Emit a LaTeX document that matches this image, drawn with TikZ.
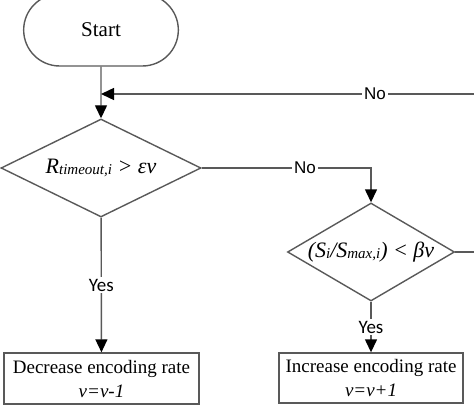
\documentclass[tikz,border=0pt]{standalone}
\usepackage{fontspec}
\setmainfont{Liberation Serif}
\newfontfamily\nofont{Liberation Sans}
\newfontfamily\yesfont{Carlito}
\usetikzlibrary{arrows.meta,shapes.geometric,shapes.misc}
\newcommand{\sbs}[1]{\raisebox{-0.6pt}{\fontsize{7.5}{8}\selectfont #1}}

\begin{document}
\begin{tikzpicture}[x=0.5pt,y=-0.5pt,
    line/.style={draw=black!65,line width=0.7pt},
    arr/.style={line,-{Triangle[length=6.5pt,width=6pt,color=black]}},
    terminal/.style={line,rounded rectangle,minimum width=84pt,minimum height=36pt,font=\fontsize{10.5}{12}\selectfont},
    decision/.style={line,diamond,inner sep=0pt,font=\fontsize{11}{12}\selectfont\itshape},
    process/.style={line,rectangle,align=center,inner sep=0pt,font=\fontsize{9.5}{12}\selectfont},
    nolab/.style={fill=white,inner sep=1pt,font=\nofont\fontsize{8.5}{10}\selectfont},
    yeslab/.style={fill=white,inner sep=1pt,font=\yesfont\fontsize{9.5}{11}\selectfont}]
  \useasboundingbox (0,0) rectangle (474,405);
  \clip (0,0) rectangle (474,405);
  \node[terminal] (start) at (101,30) {Start};
  \node[decision,minimum width=100pt,minimum height=49pt,aspect=2.04] (timeout) at (101,168)
    {R\sbs{timeout,i} > εv};
  \node[decision,minimum width=83.5pt,minimum height=49pt,aspect=1.7] (buffer) at (371,252)
    {(S\sbs{i}/S\sbs{max,i}) < βv};
  \node[process,minimum width=97.5pt,minimum height=25.5pt] (decrease) at (101.5,378.5)
    {Decrease encoding rate\\ \textit{v=v-1}};
  \node[process,minimum width=92pt,minimum height=25pt] (increase) at (371,378)
    {Increase encoding rate\\ \textit{v=v+1}};
  \coordinate (back) at (490,94);
  \draw[arr] (start) -- (timeout);
  \draw[arr] (buffer.east) -| (back) -- node[nolab,pos=0.296] {No} (start.south |- back);
  \draw[arr] (timeout.east) -| node[nolab,pos=0.305] {No} (buffer.north);
  \draw[arr] (timeout) -- node[yeslab] {Yes} (decrease);
  \draw[arr] (buffer) -- node[yeslab] {Yes} (increase);
\end{tikzpicture}
\end{document}
